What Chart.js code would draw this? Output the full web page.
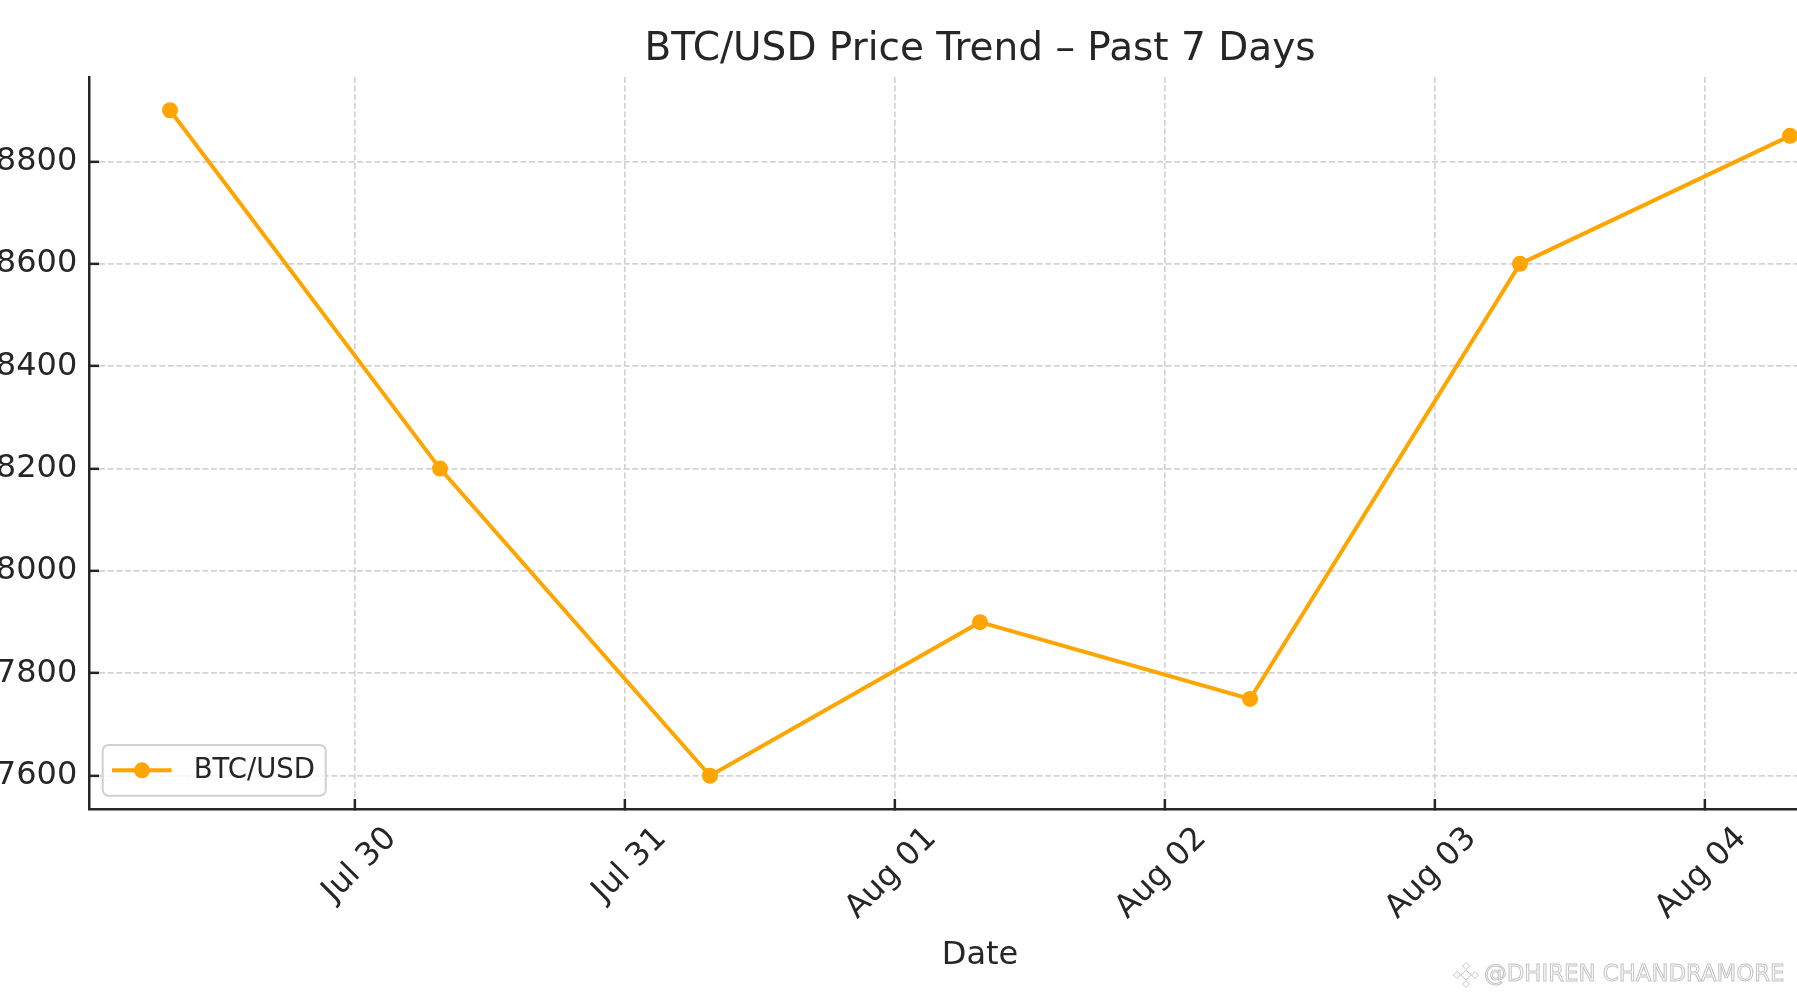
<!DOCTYPE html>
<html>
<head>
<meta charset="utf-8">
<title>BTC/USD Price Trend – Past 7 Days</title>
<script src="https://cdn.jsdelivr.net/npm/chart.js@4.4.1/dist/chart.umd.min.js"></script>
<style>
  html, body { margin: 0; padding: 0; background: #fff; overflow: hidden; }
  /* the figure is wider than the window: right part of the axes is cut off, like the source */
  #wrap { position: relative; width: 1880px; height: 1000px; }
</style>
</head>
<body>
<div id="wrap"><canvas id="chart"></canvas></div>
<script>
// Data
const dates = [
  '2025-07-29T07:36:00Z', '2025-07-30T07:36:00Z', '2025-07-31T07:36:00Z',
  '2025-08-01T07:36:00Z', '2025-08-02T07:36:00Z', '2025-08-03T07:36:00Z',
  '2025-08-04T07:36:00Z'
];
const prices = [118900, 118200, 117600, 117900, 117750, 118600, 118850];
const seriesLabel = 'BTC/USD';

// Tick positions
const xTickDates = [
  '2025-07-30T00:00:00Z', '2025-07-31T00:00:00Z', '2025-08-01T00:00:00Z',
  '2025-08-02T00:00:00Z', '2025-08-03T00:00:00Z', '2025-08-04T00:00:00Z'
];
const yTicks = [117600, 117800, 118000, 118200, 118400, 118600, 118800];

const ORANGE = '#FFA500';
const TEXT = '#262626';
const AXIS = '#262626';
const GRID = '#d3d3d3';
const FAMILY = '"DejaVu Sans", sans-serif';
const MONTHS = ['Jan', 'Feb', 'Mar', 'Apr', 'May', 'Jun', 'Jul', 'Aug', 'Sep', 'Oct', 'Nov', 'Dec'];

const xs = dates.map(d => Date.parse(d));
const xTicks = xTickDates.map(d => Date.parse(d));

// matplotlib-style 5% margins around the data
const xPad = (Math.max(...xs) - Math.min(...xs)) * 0.05;
const yPad = (Math.max(...prices) - Math.min(...prices)) * 0.05;

function fmtDay(ms) {
  const d = new Date(ms);
  return MONTHS[d.getUTCMonth()] + ' ' + String(d.getUTCDate()).padStart(2, '0');
}

// Title, in-axes legend and the watermark
const decor = {
  id: 'decor',
  afterDraw(chart) {
    const { ctx, chartArea } = chart;
    const ds = chart.data.datasets[0];
    ctx.save();

    // title centred over the axes
    ctx.fillStyle = TEXT;
    ctx.font = '39px ' + FAMILY;
    ctx.textAlign = 'center';
    ctx.textBaseline = 'alphabetic';
    ctx.fillText('BTC/USD Price Trend \u2013 Past 7 Days', (chartArea.left + chartArea.right) / 2, 60);

    // legend, lower left inside the axes
    const bx = chartArea.left + 13.7, by = chartArea.bottom - 64, bw = 223, bh = 50.7;
    ctx.beginPath();
    ctx.roundRect(bx, by, bw, bh, 6);
    ctx.fillStyle = 'rgba(255,255,255,0.8)';
    ctx.fill();
    ctx.lineWidth = 2;
    ctx.strokeStyle = '#d0d0d0';
    ctx.stroke();
    const cy = by + bh / 2;
    ctx.beginPath();
    ctx.moveTo(bx + 9.3, cy);
    ctx.lineTo(bx + 69, cy);
    ctx.lineWidth = ds.borderWidth;
    ctx.strokeStyle = ds.borderColor;
    ctx.stroke();
    ctx.beginPath();
    ctx.arc(bx + 39.3, cy, ds.pointRadius, 0, Math.PI * 2);
    ctx.fillStyle = ds.backgroundColor;
    ctx.fill();
    ctx.fillStyle = TEXT;
    ctx.font = '27.5px ' + FAMILY;
    ctx.textAlign = 'left';
    ctx.textBaseline = 'middle';
    ctx.fillText(ds.label, bx + 91, cy + 1);

    // watermark (outlined text + small diamond logo)
    const wy = 975;
    ctx.lineWidth = 1;
    ctx.strokeStyle = '#c4c4c4';
    ctx.fillStyle = '#ffffff';
    const dia = (x, y, r) => {
      ctx.beginPath();
      ctx.moveTo(x, y - r); ctx.lineTo(x + r, y); ctx.lineTo(x, y + r); ctx.lineTo(x - r, y);
      ctx.closePath(); ctx.fill(); ctx.stroke();
    };
    dia(1466, wy, 5);
    dia(1466, wy - 9, 3.5); dia(1466, wy + 9, 3.5);
    dia(1457, wy, 3.5); dia(1475, wy, 3.5);
    ctx.font = '22.8px ' + FAMILY;
    ctx.textAlign = 'left';
    ctx.textBaseline = 'middle';
    ctx.fillText('@DHIREN CHANDRAMORE', 1484, wy);
    ctx.strokeText('@DHIREN CHANDRAMORE', 1484, wy);

    ctx.restore();
  }
};

const gridOpts = {
  color: GRID,
  lineWidth: 1.7,
  drawTicks: true,
  tickLength: -10,          // ticks point into the axes
  tickColor: AXIS,
  tickWidth: 2.5,
  tickBorderDash: []
};
const borderOpts = { color: AXIS, width: 2.5, dash: [6, 2.6] };

new Chart(document.getElementById('chart'), {
  type: 'line',
  data: {
    datasets: [{
      label: seriesLabel,
      data: xs.map((x, i) => ({ x: x, y: prices[i] })),
      borderColor: ORANGE,
      backgroundColor: ORANGE,
      borderWidth: 4,
      pointRadius: 8,
      pointHoverRadius: 8,
      pointBorderWidth: 0,
      tension: 0,
      fill: false
    }]
  },
  options: {
    responsive: true,
    maintainAspectRatio: false,
    animation: false,
    events: [],
    layout: { padding: { top: 77, right: 9, bottom: 0, left: 0 } },
    plugins: {
      legend: { display: false },
      title: { display: false },
      tooltip: { enabled: false }
    },
    scales: {
      x: {
        type: 'linear',
        min: Math.min(...xs) - xPad,
        max: Math.max(...xs) + xPad,
        afterBuildTicks: scale => { scale.ticks = xTicks.map(v => ({ value: v })); },
        afterFit: scale => { scale.height = 191; },
        ticks: {
          callback: v => fmtDay(v),
          autoSkip: false,
          minRotation: 45,
          maxRotation: 45,
          labelOffset: 37,
          padding: 21,
          color: TEXT,
          font: { family: FAMILY, size: 32 }
        },
        grid: gridOpts,
        border: borderOpts,
        title: {
          display: true,
          text: 'Date',
          color: TEXT,
          font: { family: FAMILY, size: 32 },
          padding: { top: 0, bottom: 25 }
        }
      },
      y: {
        min: Math.min(...prices) - yPad,
        max: Math.max(...prices) + yPad,
        afterBuildTicks: scale => { scale.ticks = yTicks.map(v => ({ value: v })); },
        afterFit: scale => { scale.width = 89; },
        ticks: {
          callback: v => String(v),
          padding: 21.7,
          color: TEXT,
          font: { family: FAMILY, size: 32 }
        },
        grid: gridOpts,
        border: borderOpts
      }
    }
  },
  plugins: [decor]
});
</script>
</body>
</html>
